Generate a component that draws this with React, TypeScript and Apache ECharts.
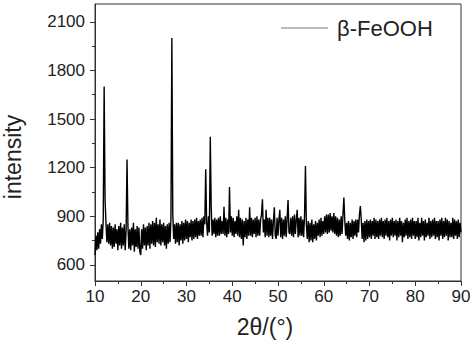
import React, { useEffect, useRef } from "react";
import * as echarts from "echarts";

// 2θ grid: 10.0° to 90.0°, step 0.2° (5 points per degree)
const twoThetaStart = 10;
const twoThetaStep = 0.2;

// intensity readings, one row per degree (x.0, x.2, x.4, x.6, x.8)
const intensity10to30 = [
  660, 780, 690, 800, 700,
  820, 730, 850, 760, 880,
  1700, 1000, 860, 740, 850,
  730, 860, 720, 840, 700,
  830, 710, 850, 730, 820,
  690, 840, 720, 860, 700,
  830, 720, 850, 690, 810,
  1250, 840, 700, 820, 690,
  830, 720, 860, 680, 820,
  710, 840, 700, 830, 680,
  660, 820, 700, 850, 720,
  830, 690, 840, 720, 860,
  700, 850, 730, 870, 720,
  860, 710, 890, 740, 850,
  730, 880, 720, 850, 740,
  860, 720, 840, 700, 850,
  730, 860, 740, 880, 2000,
  920, 760, 850, 730, 860,
  740, 860, 720, 850, 750,
  870, 730, 860, 750, 880,
];
const intensity30to50 = [
  760, 870, 740, 860, 770,
  880, 750, 870, 760, 880,
  770, 890, 760, 870, 780,
  880, 780, 890, 770, 900,
  850, 1190, 860, 780, 900,
  800, 1390, 960, 780, 880,
  790, 890, 770, 880, 780,
  890, 780, 900, 790, 870,
  790, 958, 780, 890, 770,
  880, 790, 1080, 800, 900,
  780, 890, 770, 870, 790,
  900, 780, 940, 770, 890,
  760, 880, 720, 870, 770,
  890, 760, 880, 780, 955,
  780, 890, 770, 880, 790,
  890, 770, 900, 780, 880,
  780, 880, 910, 1004, 800,
  880, 770, 940, 780, 890,
  770, 890, 780, 880, 760,
  870, 955, 780, 760, 890,
];
const intensity50to70 = [
  780, 880, 940, 770, 890,
  760, 880, 780, 900, 770,
  890, 1000, 800, 790, 890,
  780, 900, 770, 910, 790,
  880, 940, 770, 890, 780,
  900, 780, 880, 770, 900,
  1210, 850, 760, 870, 740,
  860, 750, 880, 740, 850,
  760, 870, 750, 860, 780,
  880, 770, 890, 780, 870,
  790, 900, 800, 910, 790,
  910, 800, 920, 810, 900,
  800, 920, 790, 900, 780,
  890, 770, 880, 780, 900,
  790, 910, 1015, 870, 780,
  860, 760, 870, 750, 860,
  770, 880, 760, 870, 780,
  880, 770, 880, 800, 910,
  962, 880, 760, 860, 740,
  870, 750, 880, 760, 870,
];
const intensity70to90 = [
  770, 880, 760, 870, 780,
  890, 760, 880, 770, 870,
  760, 880, 780, 890, 770,
  870, 760, 880, 780, 890,
  770, 870, 750, 880, 780,
  890, 770, 870, 780, 880,
  750, 870, 770, 890, 780,
  870, 740, 860, 770, 880,
  780, 890, 760, 870, 770,
  880, 760, 890, 780, 870,
  760, 870, 770, 890, 750,
  860, 770, 890, 780, 870,
  750, 880, 770, 860, 780,
  890, 760, 870, 770, 880,
  780, 890, 760, 870, 770,
  870, 750, 880, 780, 890,
  760, 870, 770, 890, 780,
  880, 750, 870, 770, 860,
  770, 890, 760, 880, 780,
  870, 760, 880, 770, 860,
  800,
];

const yMajorTicks = [600, 900, 1200, 1500, 1800, 2100];
const yMinorTicks = [750, 1050, 1350, 1650, 1950];
const seriesName = "β-FeOOH";
const xTitle = "2θ/(°)";
const yTitle = "intensity";

const FONT = "'Liberation Sans', Arial, Helvetica, sans-serif";

export default function App() {
  const ref = useRef<HTMLDivElement>(null);
  useEffect(() => {
    if (!ref.current) return;
    const chart = echarts.init(ref.current, null, { renderer: "svg" });
    const all = [...intensity10to30, ...intensity30to50, ...intensity50to70, ...intensity70to90];
    const data = all.map((v, i) => [+(twoThetaStart + i * twoThetaStep).toFixed(1), v]);
    chart.setOption({
      animation: false,
      backgroundColor: "#fff",
      grid: { left: 95, right: 13, top: 4, bottom: 63, show: true, borderColor: "#333", borderWidth: 1, backgroundColor: "transparent" },
      legend: {
        left: 276,
        top: 12,
        itemWidth: 47,
        itemHeight: 1,
        icon: "rect",
        data: [{ name: seriesName, icon: "rect", itemStyle: { color: "#777" } }],
        itemStyle: { color: "#777" },
        textStyle: { fontSize: 22, color: "#222", fontFamily: FONT, padding: [0, 0, 0, 4] },
      },
      xAxis: {
        type: "value",
        min: 10,
        max: 90,
        interval: 10,
        axisLine: { show: true, lineStyle: { color: "#333", width: 1 } },
        axisTick: { show: true, inside: false, length: 5, lineStyle: { color: "#333" } },
        minorTick: { show: true, splitNumber: 2, length: 3, lineStyle: { color: "#333" } },
        splitLine: { show: false },
        minorSplitLine: { show: false },
        axisLabel: { fontSize: 17, color: "#222", fontFamily: FONT, margin: 7 },
      },
      yAxis: [
        {
          type: "value",
          min: 500,
          max: 2210,
          axisLine: { show: true, lineStyle: { color: "#333", width: 1 } },
          axisTick: { show: true, inside: false, length: 5, lineStyle: { color: "#333" }, customValues: yMajorTicks },
          splitLine: { show: false },
          axisLabel: {
            fontSize: 17,
            color: "#222",
            fontFamily: FONT,
            margin: 10,
            customValues: yMajorTicks,
            formatter: (v: number) => String(v),
          },
        },
        {
          type: "value",
          min: 500,
          max: 2210,
          position: "left",
          axisLine: { show: false },
          axisTick: { show: true, inside: false, length: 3, lineStyle: { color: "#333" }, customValues: yMinorTicks },
          splitLine: { show: false },
          axisLabel: { show: false },
        },
      ],
      graphic: [
        {
          type: "text",
          x: 265,
          y: 327,
          style: { text: xTitle, fontSize: 23, fill: "#222", fontFamily: FONT, align: "center", verticalAlign: "middle" },
        },
        {
          type: "text",
          x: 13,
          y: 157,
          rotation: Math.PI / 2,
          style: { text: yTitle, fontSize: 23, fill: "#222", fontFamily: FONT, align: "center", verticalAlign: "middle" },
        },
      ],
      series: [
        {
          name: seriesName,
          type: "line",
          data,
          symbol: "none",
          showSymbol: false,
          lineStyle: { color: "#000", width: 1.4 },
          itemStyle: { color: "#000" },
        },
      ],
    });
    return () => chart.dispose();
  }, []);
  return <div ref={ref} style={{ width: 474, height: 344, position: "absolute", left: 0, top: 0 }} />;
}
